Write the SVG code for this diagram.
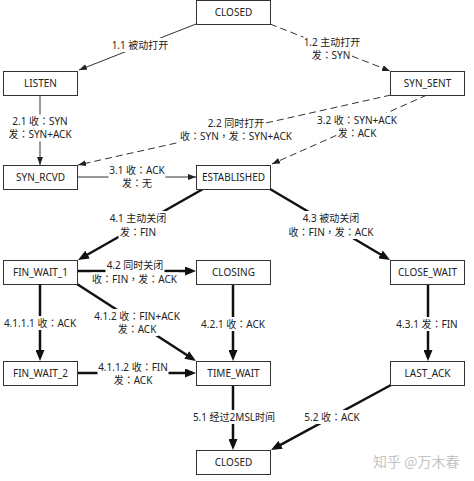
<svg xmlns="http://www.w3.org/2000/svg" width="474" height="481" viewBox="0 0 474 481">
<defs>
<style>
.node rect{fill:#fff;stroke:#333;stroke-width:1}
.node text{font-family:"Noto Sans","Noto Sans CJK SC",sans-serif;font-size:10px;fill:#222;text-anchor:middle}
.thin{stroke:#333;stroke-width:1;fill:none;marker-end:url(#at)}
.dash{stroke-dasharray:7 4}
.thick{stroke:#111;stroke-width:2.5;fill:none;marker-end:url(#ak)}
.bg{fill:#fff}
.lbl{font-family:"Noto Sans","Noto Sans CJK TC","Noto Sans CJK SC",sans-serif;font-size:10px;fill:#222;text-anchor:middle}
</style>
<marker id="at" markerUnits="userSpaceOnUse" markerWidth="8" markerHeight="6" refX="8" refY="3" orient="auto"><path d="M0,0 L8,3 L0,6 z" fill="#222"/></marker>
<marker id="ak" markerUnits="userSpaceOnUse" markerWidth="11" markerHeight="9" refX="7" refY="4.5" orient="auto"><path d="M0,0 L11,4.5 L0,9 z" fill="#111"/></marker>
</defs>
<rect width="474" height="481" fill="#fff"/>
<g id="connectors">
<g id="c-closed-listen"><line class="thin" x1="196" y1="24" x2="79" y2="70"/><rect class="bg" x="111.5" y="38" width="57" height="14"/><text class="lbl" x="140" y="48.5">1.1 被动打开</text></g>
<g id="c-closed-synsent"><line class="thin dash" x1="270" y1="24" x2="390" y2="71"/><rect class="bg" x="303.5" y="35.5" width="58" height="14"/><rect class="bg" x="310.5" y="49" width="41" height="13"/><text class="lbl" x="332" y="46">1.2 主动打开</text><text class="lbl" x="331" y="59">发：SYN</text></g>
<g id="c-listen-synrcvd"><line class="thin" x1="40" y1="95" x2="40" y2="165"/><rect class="bg" x="11.5" y="114.5" width="57" height="14"/><rect class="bg" x="5.5" y="127.5" width="68" height="14"/><text class="lbl" x="40" y="125">2.1 收：SYN</text><text class="lbl" x="40" y="138">发：SYN+ACK</text></g>
<g id="c-synsent-synrcvd"><line class="thin dash" x1="391" y1="95" x2="78" y2="165"/><rect class="bg" x="206.5" y="116" width="58" height="14"/><rect class="bg" x="178.5" y="129" width="116" height="14"/><text class="lbl" x="236" y="126.5">2.2 同时打开</text><text class="lbl" x="236" y="139.5">收：SYN，发：SYN+ACK</text></g>
<g id="c-synsent-established"><line class="thin dash" x1="427" y1="95" x2="272" y2="164"/><rect class="bg" x="315.5" y="113" width="83" height="14"/><rect class="bg" x="336.5" y="126" width="41" height="14"/><text class="lbl" x="357" y="123.5">3.2 收：SYN+ACK</text><text class="lbl" x="357" y="136.5">发：ACK</text></g>
<g id="c-synrcvd-established"><line class="thin" x1="77" y1="177" x2="196" y2="177"/><rect class="bg" x="108.5" y="163" width="57" height="15"/><rect class="bg" x="120.5" y="176" width="33" height="14"/><text class="lbl" x="137" y="173.5">3.1 收：ACK</text><text class="lbl" x="137" y="186.5">发：无</text></g>
<g id="c-established-finwait1"><line class="thick" x1="203" y1="189" x2="81.5" y2="258"/><rect class="bg" x="109.5" y="211" width="58" height="14"/><rect class="bg" x="118.5" y="225" width="38" height="14"/><text class="lbl" x="138" y="221.5">4.1 主动关闭</text><text class="lbl" x="138" y="235.5">发：FIN</text></g>
<g id="c-established-closewait"><line class="thick" x1="270" y1="189" x2="386.6" y2="258"/><rect class="bg" x="301.5" y="211" width="59" height="14"/><rect class="bg" x="287.5" y="225" width="87" height="14"/><text class="lbl" x="331" y="221.5">4.3 被动关闭</text><text class="lbl" x="331" y="235.5">收：FIN，发：ACK</text></g>
<g id="c-finwait1-closing"><line class="thick" x1="77" y1="271" x2="192" y2="271"/><rect class="bg" x="105.5" y="258" width="59" height="15"/><rect class="bg" x="91.5" y="272.5" width="87" height="13"/><text class="lbl" x="135" y="268.5">4.2 同时关闭</text><text class="lbl" x="134.5" y="282.5">收：FIN，发：ACK</text></g>
<g id="c-finwait1-finwait2"><line class="thick" x1="40" y1="284" x2="40" y2="357"/><rect class="bg" x="2.5" y="316" width="74" height="14"/><text class="lbl" x="40" y="326.5">4.1.1.1 收：ACK</text></g>
<g id="c-finwait1-timewait"><line class="thick" x1="77" y1="284" x2="192.6" y2="358.8"/><rect class="bg" x="92.5" y="309" width="89" height="14"/><rect class="bg" x="116.5" y="322" width="42" height="14"/><text class="lbl" x="137" y="319.5">4.1.2 收：FIN+ACK</text><text class="lbl" x="137" y="332.5">发：ACK</text></g>
<g id="c-closing-timewait"><line class="thick" x1="233" y1="284" x2="233" y2="357"/><rect class="bg" x="200.5" y="317" width="66" height="14"/><text class="lbl" x="233" y="327.5">4.2.1 收：ACK</text></g>
<g id="c-closewait-lastack"><line class="thick" x1="428" y1="284" x2="428" y2="357"/><rect class="bg" x="396.5" y="317" width="62" height="14"/><text class="lbl" x="427" y="327.5">4.3.1 发：FIN</text></g>
<g id="c-finwait2-timewait"><line class="thick" x1="77" y1="373" x2="192" y2="373"/><rect class="bg" x="97.5" y="360" width="71" height="15"/><rect class="bg" x="111.5" y="374" width="43" height="13"/><text class="lbl" x="133" y="370.5">4.1.1.2 收：FIN</text><text class="lbl" x="133" y="383.5">发：ACK</text></g>
<g id="c-timewait-closed"><line class="thick" x1="233" y1="385" x2="233" y2="446"/><rect class="bg" x="191.5" y="410" width="84" height="14"/><text class="lbl" x="234" y="420.5">5.1 经过2MSL时间</text></g>
<g id="c-lastack-closed"><line class="thick" x1="391" y1="385" x2="274.5" y2="448.1"/><rect class="bg" x="303.5" y="410" width="58" height="14"/><text class="lbl" x="332" y="420.5">5.2 收：ACK</text></g>
</g>
<g id="n-closed-top" class="node"><rect x="196.5" y="0.5" width="74" height="24"/><text x="233.5" y="16">CLOSED</text></g>
<g id="n-listen" class="node"><rect x="3.5" y="71.5" width="74" height="24"/><text x="40.5" y="87">LISTEN</text></g>
<g id="n-syn-sent" class="node"><rect x="390.5" y="71.5" width="74" height="24"/><text x="427.5" y="87">SYN_SENT</text></g>
<g id="n-syn-rcvd" class="node"><rect x="3.5" y="165.5" width="74" height="24"/><text x="40.5" y="181">SYN_RCVD</text></g>
<g id="n-established" class="node"><rect x="196.5" y="165.5" width="74" height="24"/><text x="233.5" y="181">ESTABLISHED</text></g>
<g id="n-fin-wait-1" class="node"><rect x="3.5" y="260.5" width="74" height="24"/><text x="40.5" y="276">FIN_WAIT_1</text></g>
<g id="n-closing" class="node"><rect x="196.5" y="260.5" width="74" height="24"/><text x="233.5" y="276">CLOSING</text></g>
<g id="n-close-wait" class="node"><rect x="390.5" y="260.5" width="74" height="24"/><text x="427.5" y="276">CLOSE_WAIT</text></g>
<g id="n-fin-wait-2" class="node"><rect x="3.5" y="361.5" width="74" height="24"/><text x="40.5" y="377">FIN_WAIT_2</text></g>
<g id="n-time-wait" class="node"><rect x="196.5" y="361.5" width="74" height="24"/><text x="233.5" y="377">TIME_WAIT</text></g>
<g id="n-last-ack" class="node"><rect x="390.5" y="361.5" width="74" height="24"/><text x="427.5" y="377">LAST_ACK</text></g>
<g id="n-closed-bottom" class="node"><rect x="196.5" y="450.5" width="74" height="24"/><text x="233.5" y="466">CLOSED</text></g>
<text x="373" y="467" font-family="'Noto Sans CJK SC',sans-serif" font-size="14" fill="#c4c4c4">知乎 @万木春</text>
</svg>
